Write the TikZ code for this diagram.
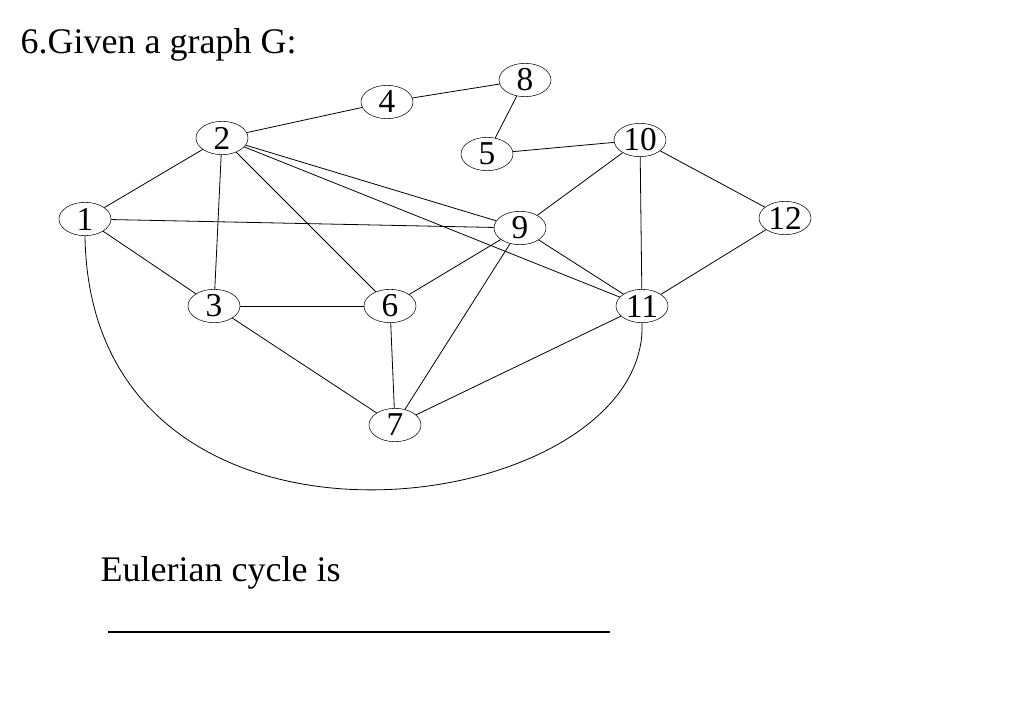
\documentclass[tikz,border=0pt]{standalone}
\usepackage{fontspec}
\setmainfont{Liberation Serif}
\usetikzlibrary{shapes.geometric}
\begin{document}
\begin{tikzpicture}[x=0.75pt,y=-0.75pt,
  vtx/.style={draw,ellipse,minimum width=39pt,minimum height=25pt,inner sep=0pt,font=\fontsize{25}{25}\selectfont},
  edge/.style={line width=0.6pt}]
\useasboundingbox (0,0) rectangle (1024,714);
\node[anchor=west,font=\fontsize{27}{27}\selectfont] (title) at (16,45) {6.Given a graph G:};
\node[vtx] (n1) at (85,219) {1};
\node[vtx] (n2) at (222,138) {2};
\node[vtx] (n3) at (214,306) {3};
\node[vtx] (n4) at (387,102) {4};
\node[vtx] (n5) at (487,154) {5};
\node[vtx] (n8) at (525,80) {8};
\node[vtx] (n10) at (640,140) {10};
\node[vtx] (n9) at (520,228) {9};
\node[vtx] (n12) at (785,218) {12};
\node[vtx] (n6) at (390,306) {6};
\node[vtx] (n11) at (642,306) {11};
\node[vtx] (n7) at (395,425) {7};
\foreach \a/\b in {n2/n4,n4/n8,n8/n5,n5/n10,n1/n2,n1/n3,n1/n9,n2/n3,n2/n6,n2/n9,n2/n11,n3/n6,n3/n7,n6/n7,n6/n9,n9/n7,n9/n10,n9/n11,n10/n11,n10/n12,n12/n11,n11/n7}
  \draw[edge] (\a) -- (\b);
\draw[edge] (n1.south) .. controls (90,600) and (650,520) .. (n11.south);
\node[anchor=west,font=\fontsize{27}{27}\selectfont] (eul) at (96,573) {Eulerian cycle is};
\coordinate (ua) at (108,632);
\coordinate (ub) at (610,632);
\draw[line width=0.8pt] (ua) -- (ub);
\end{tikzpicture}
\end{document}
